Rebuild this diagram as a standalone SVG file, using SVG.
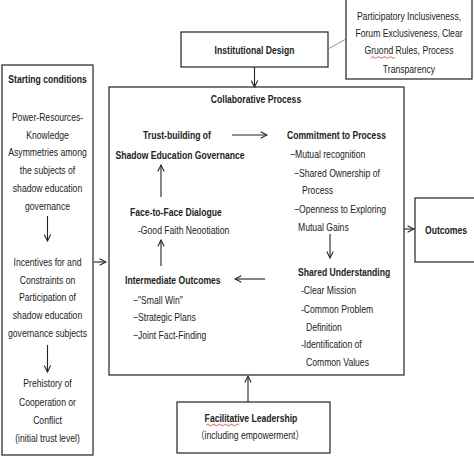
<svg xmlns="http://www.w3.org/2000/svg" width="474" height="462" viewBox="0 0 474 462">
<style>
text{font-family:"Liberation Sans",Arial,"Noto Sans CJK SC",sans-serif;font-size:10.5px;fill:#222}
.b{font-weight:bold}
.c{text-anchor:middle}
.box{fill:#fff;stroke:#222;stroke-width:1.2}
.ln{stroke:#222;stroke-width:1.1;fill:none}
.sq{stroke:#e03030;stroke-width:0.8;fill:none}
</style>
<defs>
<marker id="ah" viewBox="0 0 10 10" refX="9" refY="5" markerWidth="8" markerHeight="8" orient="auto" markerUnits="userSpaceOnUse">
<path d="M1,1 L9,5 L1,9" fill="none" stroke="#222" stroke-width="1.3"/>
</marker>
</defs>
<rect width="474" height="462" fill="#fff"/>

<g id="institutional-design">
<rect class="box" x="181" y="32" width="147" height="35"/>
<text class="b c" transform="translate(254.5,53.5) scale(0.82,1)">Institutional Design</text>
</g>

<g id="design-details">
<rect class="box" x="346" y="-2" width="126" height="81"/>
<text class="c" transform="translate(409,19.5) scale(0.82,1)">Participatory Inclusiveness,</text>
<text class="c" transform="translate(409,37) scale(0.82,1)">Forum Exclusiveness, Clear</text>
<text class="c" transform="translate(409,54) scale(0.82,1)">Gruond Rules, Process</text>
<text class="c" transform="translate(409,72.5) scale(0.82,1)">Transparency</text>
<path class="sq" d="M371,57.5 q1.5,-1.5 3,0 t3,0 t3,0 t3,0 t3,0 t3,0 t3,0 t3,0"/>
</g>

<g id="starting-conditions">
<rect class="box" x="2" y="65" width="91" height="390"/>
<text class="b c" transform="translate(47.5,83) scale(0.82,1)">Starting conditions</text>
<text class="c" transform="translate(47.5,120.5) scale(0.82,1)">Power-Resources-</text>
<text class="c" transform="translate(47.5,138.5) scale(0.82,1)">Knowledge</text>
<text class="c" transform="translate(47.5,156) scale(0.82,1)">Asymmetries among</text>
<text class="c" transform="translate(47.5,174) scale(0.82,1)">the subjects of</text>
<text class="c" transform="translate(47.5,191.5) scale(0.82,1)">shadow education</text>
<text class="c" transform="translate(47.5,209.5) scale(0.82,1)">governance</text>
<text class="c" transform="translate(47.5,265.5) scale(0.82,1)">Incentives for and</text>
<text class="c" transform="translate(47.5,283.5) scale(0.82,1)">Constraints on</text>
<text class="c" transform="translate(47.5,301) scale(0.82,1)">Participation of</text>
<text class="c" transform="translate(47.5,319) scale(0.82,1)">shadow education</text>
<text class="c" transform="translate(47.5,336.5) scale(0.82,1)">governance subjects</text>
<text class="c" transform="translate(47.5,387) scale(0.82,1)">Prehistory of</text>
<text class="c" transform="translate(47.5,405.5) scale(0.82,1)">Cooperation or</text>
<text class="c" transform="translate(47.5,423.5) scale(0.82,1)">Conflict</text>
<text class="c" transform="translate(47.5,441.5) scale(0.82,1)">(initial trust level)</text>
</g>

<g id="collaborative-process">
<rect class="box" x="109" y="87" width="295" height="288"/>
<text class="b c" transform="translate(256,103) scale(0.82,1)">Collaborative Process</text>
</g>

<g id="trust-building">
<text class="b c" transform="translate(177,139) scale(0.82,1)">Trust-building of</text>
<text class="b c" transform="translate(180,158.5) scale(0.82,1)">Shadow Education Governance</text>
</g>

<g id="commitment">
<text class="b" transform="translate(287,139) scale(0.82,1)">Commitment to Process</text>
<text transform="translate(290,158) scale(0.82,1)">−Mutual recognition</text>
<text transform="translate(294,176.5) scale(0.82,1)">−Shared Ownership of</text>
<text transform="translate(302,194) scale(0.82,1)">Process</text>
<text transform="translate(294,213) scale(0.82,1)">−Openness to Exploring</text>
<text transform="translate(298,230.5) scale(0.82,1)">Mutual Gains</text>
</g>

<g id="shared-understanding">
<text class="b" transform="translate(298,276) scale(0.82,1)">Shared Understanding</text>
<text transform="translate(301,294) scale(0.82,1)">-Clear Mission</text>
<text transform="translate(301,312.5) scale(0.82,1)">-Common Problem</text>
<text transform="translate(306,330.5) scale(0.82,1)">Definition</text>
<text transform="translate(301,348) scale(0.82,1)">-Identification of</text>
<text transform="translate(306,366) scale(0.82,1)">Common Values</text>
</g>

<g id="face-to-face">
<text class="b" transform="translate(130,216) scale(0.82,1)">Face-to-Face Dialogue</text>
<text transform="translate(138,233.5) scale(0.82,1)">-Good Faith Neootiation</text>
</g>

<g id="intermediate-outcomes">
<text class="b" transform="translate(125,284) scale(0.82,1)">Intermediate Outcomes</text>
<text transform="translate(133,303.5) scale(0.82,1)">−"Small Win"</text>
<text transform="translate(133,321) scale(0.82,1)">−Strategic Plans</text>
<text transform="translate(133,339) scale(0.82,1)">−Joint Fact-Finding</text>
</g>

<g id="outcomes">
<rect class="box" x="415" y="198" width="62" height="64"/>
<text class="b" transform="translate(425,233.5) scale(0.82,1)">Outcomes</text>
</g>

<g id="facilitative-leadership">
<rect class="box" x="177" y="402" width="153" height="51"/>
<text class="b c" transform="translate(251,421.5) scale(0.82,1)">Facilitative Leadership</text>
<text class="c" transform="translate(250,439) scale(0.82,1)">（including empowerment）</text>
<path class="sq" d="M206,425 q1.5,-1.5 3,0 t3,0 t3,0 t3,0 t3,0 t3,0 t3,0 t3,0 t3,0 t3,0 t3,0"/>
</g>

<g id="connectors">
<line x1="328" y1="49" x2="346" y2="39" stroke="#5b8fc7" stroke-width="0.9"/>
<line class="ln" x1="254.5" y1="67" x2="254.5" y2="87" marker-end="url(#ah)"/>
<line class="ln" x1="47.5" y1="216" x2="47.5" y2="241" marker-end="url(#ah)"/>
<line class="ln" x1="47.5" y1="345" x2="47.5" y2="372" marker-end="url(#ah)"/>
<line class="ln" x1="94" y1="262" x2="106" y2="262" marker-end="url(#ah)"/>
<line class="ln" x1="232" y1="135" x2="267" y2="135" marker-end="url(#ah)"/>
<line class="ln" x1="330" y1="234" x2="330" y2="258" marker-end="url(#ah)"/>
<line class="ln" x1="265" y1="279" x2="235" y2="279" marker-end="url(#ah)"/>
<line class="ln" x1="161" y1="266" x2="161" y2="240" marker-end="url(#ah)"/>
<line class="ln" x1="161" y1="197" x2="161" y2="165" marker-end="url(#ah)"/>
<line class="ln" x1="404" y1="229" x2="414" y2="229" marker-end="url(#ah)"/>
<line class="ln" x1="248" y1="402" x2="248" y2="376" marker-end="url(#ah)"/>
</g>
</svg>
